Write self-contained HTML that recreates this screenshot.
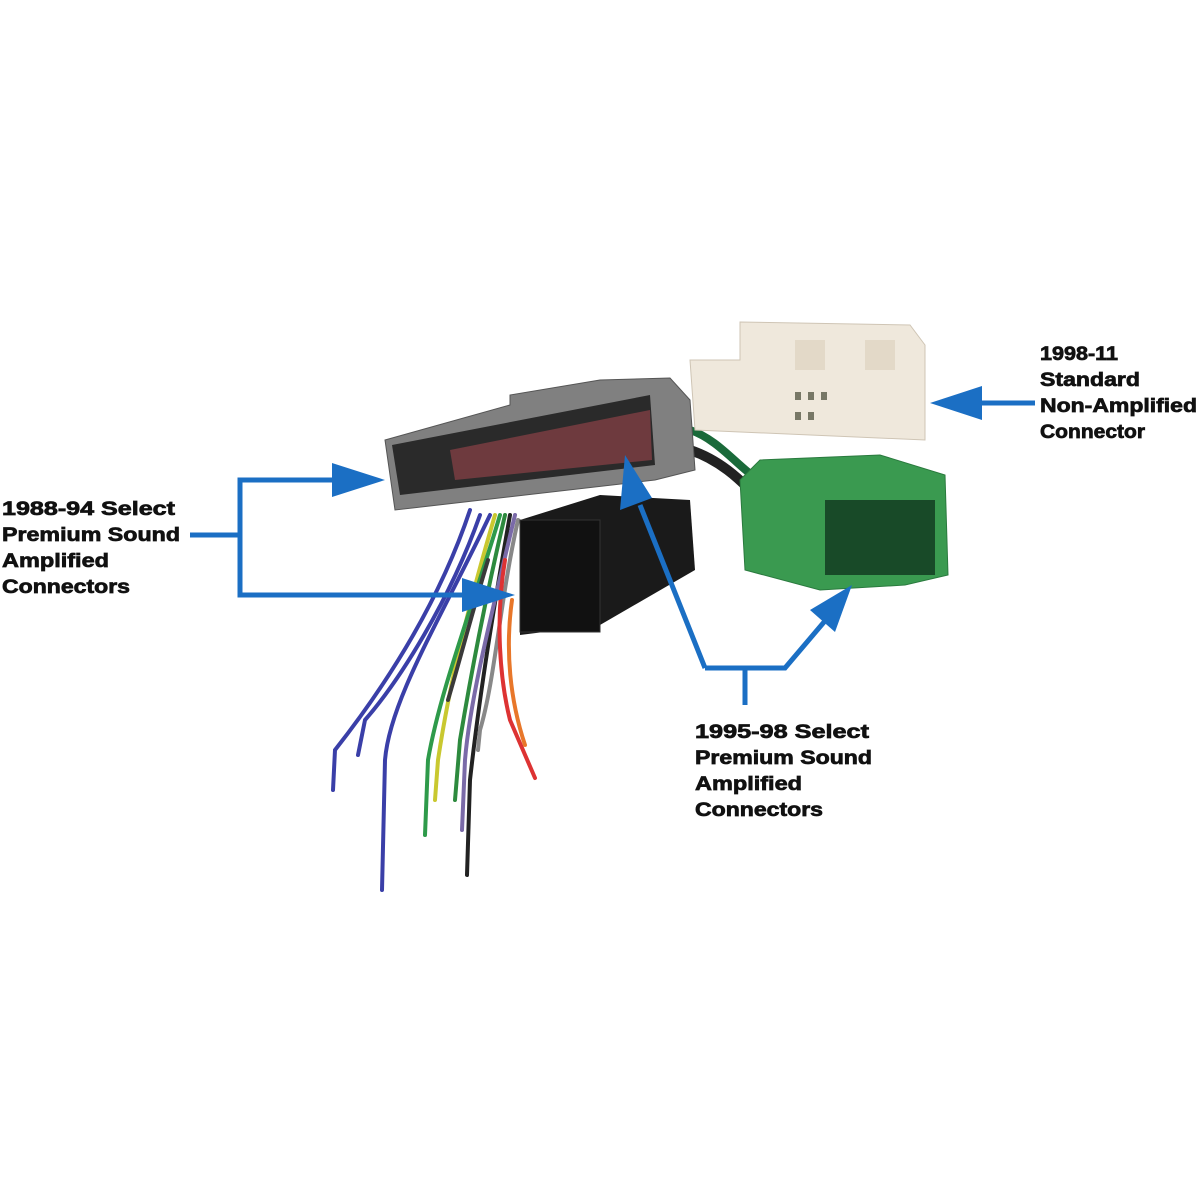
<!DOCTYPE html>
<html><head><meta charset="utf-8"><style>
html,body{margin:0;padding:0;background:#fff}
svg{display:block}
text{font-family:"Liberation Sans",Arial,sans-serif;font-weight:bold;font-size:19px;fill:#111;stroke:#111;stroke-width:0.7px}
</style></head><body>
<svg width="1200" height="1200" viewBox="0 0 1200 1200" xmlns="http://www.w3.org/2000/svg">
<rect width="1200" height="1200" fill="#fff"/>
<g fill="none" stroke-width="4" stroke-linecap="round">
<path d="M470 510 C440 600 390 680 335 750 L333 790" stroke="#3a3fa8"/>
<path d="M480 515 C450 600 400 680 365 720 L358 755" stroke="#3a3fa8"/>
<path d="M490 515 C440 620 390 700 385 760 L382 890" stroke="#3a3fa8"/>
<path d="M495 515 C470 600 450 680 438 760 L435 800" stroke="#c9c830"/>
<path d="M500 515 C475 600 440 690 428 760 L425 835" stroke="#2e9a4a"/>
<path d="M505 515 C485 600 470 680 460 740 L455 800" stroke="#2d8a3e"/>
<path d="M510 515 C495 600 480 690 470 780 L467 875" stroke="#222"/>
<path d="M515 515 C490 620 470 700 465 760 L462 830" stroke="#7a6aa8"/>
<path d="M518 520 C500 600 495 680 480 730 L478 750" stroke="#888"/>
<path d="M505 560 C495 620 500 680 510 720 L535 778" stroke="#d33"/>
<path d="M512 600 C505 650 510 700 525 745" stroke="#e8772a"/>
<path d="M488 560 C470 620 460 660 448 700" stroke="#3a3a3a"/>
<path d="M690 430 C720 440 740 470 760 480" stroke="#1a6a3a" stroke-width="8"/>
<path d="M690 450 C720 460 740 480 750 490" stroke="#222" stroke-width="10"/>
</g>
<polygon points="690,360 740,360 740,322 910,325 925,345 925,440 695,430" fill="#efe8dc" stroke="#cfc5b5"/>
<rect x="795" y="340" width="30" height="30" fill="#e3d9c8"/>
<rect x="865" y="340" width="30" height="30" fill="#e3d9c8"/>
<g fill="#776"><rect x="795" y="392" width="6" height="8"/><rect x="808" y="392" width="6" height="8"/><rect x="821" y="392" width="6" height="8"/><rect x="795" y="412" width="6" height="8"/><rect x="808" y="412" width="6" height="8"/></g>
<polygon points="385,440 510,405 510,395 600,380 670,378 690,400 695,470 655,480 395,510" fill="#808080" stroke="#555"/>
<polygon points="392,445 650,395 655,465 400,495" fill="#2a2a2a"/>
<polygon points="450,450 650,410 652,460 455,480" fill="#6e3a3e"/>
<polygon points="520,520 600,495 690,500 695,570 600,625 520,635" fill="#1a1a1a"/>
<rect x="520" y="520" width="80" height="112" fill="#111" stroke="#333"/>
<polygon points="740,480 760,460 880,455 945,475 948,575 905,585 820,590 745,570" fill="#3a9a50" stroke="#2a7a3e"/>
<rect x="825" y="500" width="110" height="75" fill="#184a28"/>
<g stroke="#1b6fc4" stroke-width="5" fill="none">
<path d="M190 535 H240 V480 H340"/><path d="M240 535 V595 H470"/>
<path d="M1035 403 H970"/>
<path d="M745 705 V668 H785 L830 615"/><path d="M705 668 L640 505"/><path d="M705 668 H745"/>
</g>
<g fill="#1b6fc4">
<polygon points="385,480 332,463 332,497"/>
<polygon points="515,595 462,578 462,612"/>
<polygon points="930,403 982,386 982,420"/>
<polygon points="625,455 620,510 652,498"/>
<polygon points="852,585 810,610 835,632"/>
</g>
<text x="2" y="515" textLength="173" lengthAdjust="spacingAndGlyphs">1988-94 Select</text>
<text x="2" y="541" textLength="178" lengthAdjust="spacingAndGlyphs">Premium Sound</text>
<text x="2" y="567" textLength="107" lengthAdjust="spacingAndGlyphs">Amplified</text>
<text x="2" y="593" textLength="128" lengthAdjust="spacingAndGlyphs">Connectors</text>
<text x="1040" y="360" textLength="78" lengthAdjust="spacingAndGlyphs">1998-11</text>
<text x="1040" y="386" textLength="100" lengthAdjust="spacingAndGlyphs">Standard</text>
<text x="1040" y="412" textLength="157" lengthAdjust="spacingAndGlyphs">Non-Amplified</text>
<text x="1040" y="438" textLength="105" lengthAdjust="spacingAndGlyphs">Connector</text>
<text x="695" y="738" textLength="174" lengthAdjust="spacingAndGlyphs">1995-98 Select</text>
<text x="695" y="764" textLength="177" lengthAdjust="spacingAndGlyphs">Premium Sound</text>
<text x="695" y="790" textLength="107" lengthAdjust="spacingAndGlyphs">Amplified</text>
<text x="695" y="816" textLength="128" lengthAdjust="spacingAndGlyphs">Connectors</text>
</svg>
</body></html>
